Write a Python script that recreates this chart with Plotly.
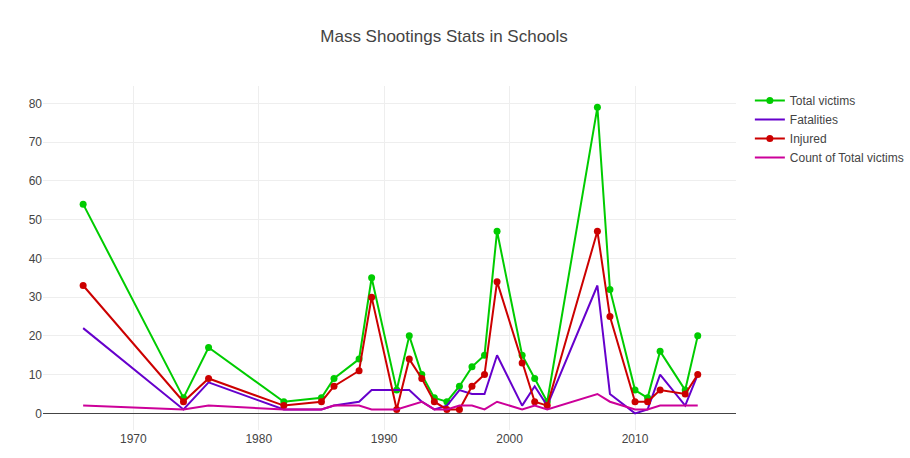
import plotly.graph_objects as go

years = [1966, 1974, 1976, 1982, 1985, 1986, 1988, 1989, 1991, 1992, 1993, 1994, 1995,
         1996, 1997, 1998, 1999, 2001, 2002, 2003, 2007, 2008, 2010, 2011, 2012, 2014, 2015]
total_victims = [54, 4, 17, 3, 4, 9, 14, 35, 6, 20, 10, 4, 3, 7, 12, 15, 47, 15, 9, 3,
                 79, 32, 6, 4, 16, 6, 20]
fatalities = [22, 1, 8, 1, 1, 2, 3, 6, 6, 6, 3, 1, 2, 6, 5, 5, 15, 2, 7, 2,
              33, 5, 0, 1, 10, 2, 10]
injured = [33, 3, 9, 2, 3, 7, 11, 30, 1, 14, 9, 3, 1, 1, 7, 10, 34, 13, 3, 2,
           47, 25, 3, 3, 6, 5, 10]
count_total = [2, 1, 2, 1, 1, 2, 2, 1, 1, 2, 3, 1, 1, 2, 2, 1, 3, 1, 2, 1,
               5, 3, 1, 1, 2, 2, 2]

fig = go.Figure()
fig.add_trace(go.Scatter(x=years, y=total_victims, name="Total victims", mode="lines+markers",
                         line=dict(color="#00cc00", width=2), marker=dict(size=7)))
fig.add_trace(go.Scatter(x=years, y=fatalities, name="Fatalities", mode="lines",
                         line=dict(color="#6600cc", width=2)))
fig.add_trace(go.Scatter(x=years, y=injured, name="Injured", mode="lines+markers",
                         line=dict(color="#cc0000", width=2), marker=dict(size=7)))
fig.add_trace(go.Scatter(x=years, y=count_total, name="Count of Total victims", mode="lines",
                         line=dict(color="#cc0099", width=2)))

fig.update_layout(
    width=910, height=458,
    margin=dict(l=43, r=174, t=86, b=28, autoexpand=False),
    title=dict(text="Mass Shootings Stats in Schools", x=0.488, xanchor="center", y=0.935,
               font=dict(size=17, color="#444")),
    font=dict(family="Arial, Liberation Sans, sans-serif", size=12, color="#444"),
    paper_bgcolor="white", plot_bgcolor="white",
    xaxis=dict(range=[1962.8, 2018.05], showgrid=True, gridcolor="#eee", zeroline=False,
               tickvals=[1970, 1980, 1990, 2000, 2010]),
    yaxis=dict(range=[-4.3, 84.5], showgrid=True, gridcolor="#eee", zeroline=True,
               zerolinecolor="#444", zerolinewidth=1, dtick=10),
    legend=dict(x=1.02, y=1, font=dict(size=12)),
)

fig.write_html("out.html")
